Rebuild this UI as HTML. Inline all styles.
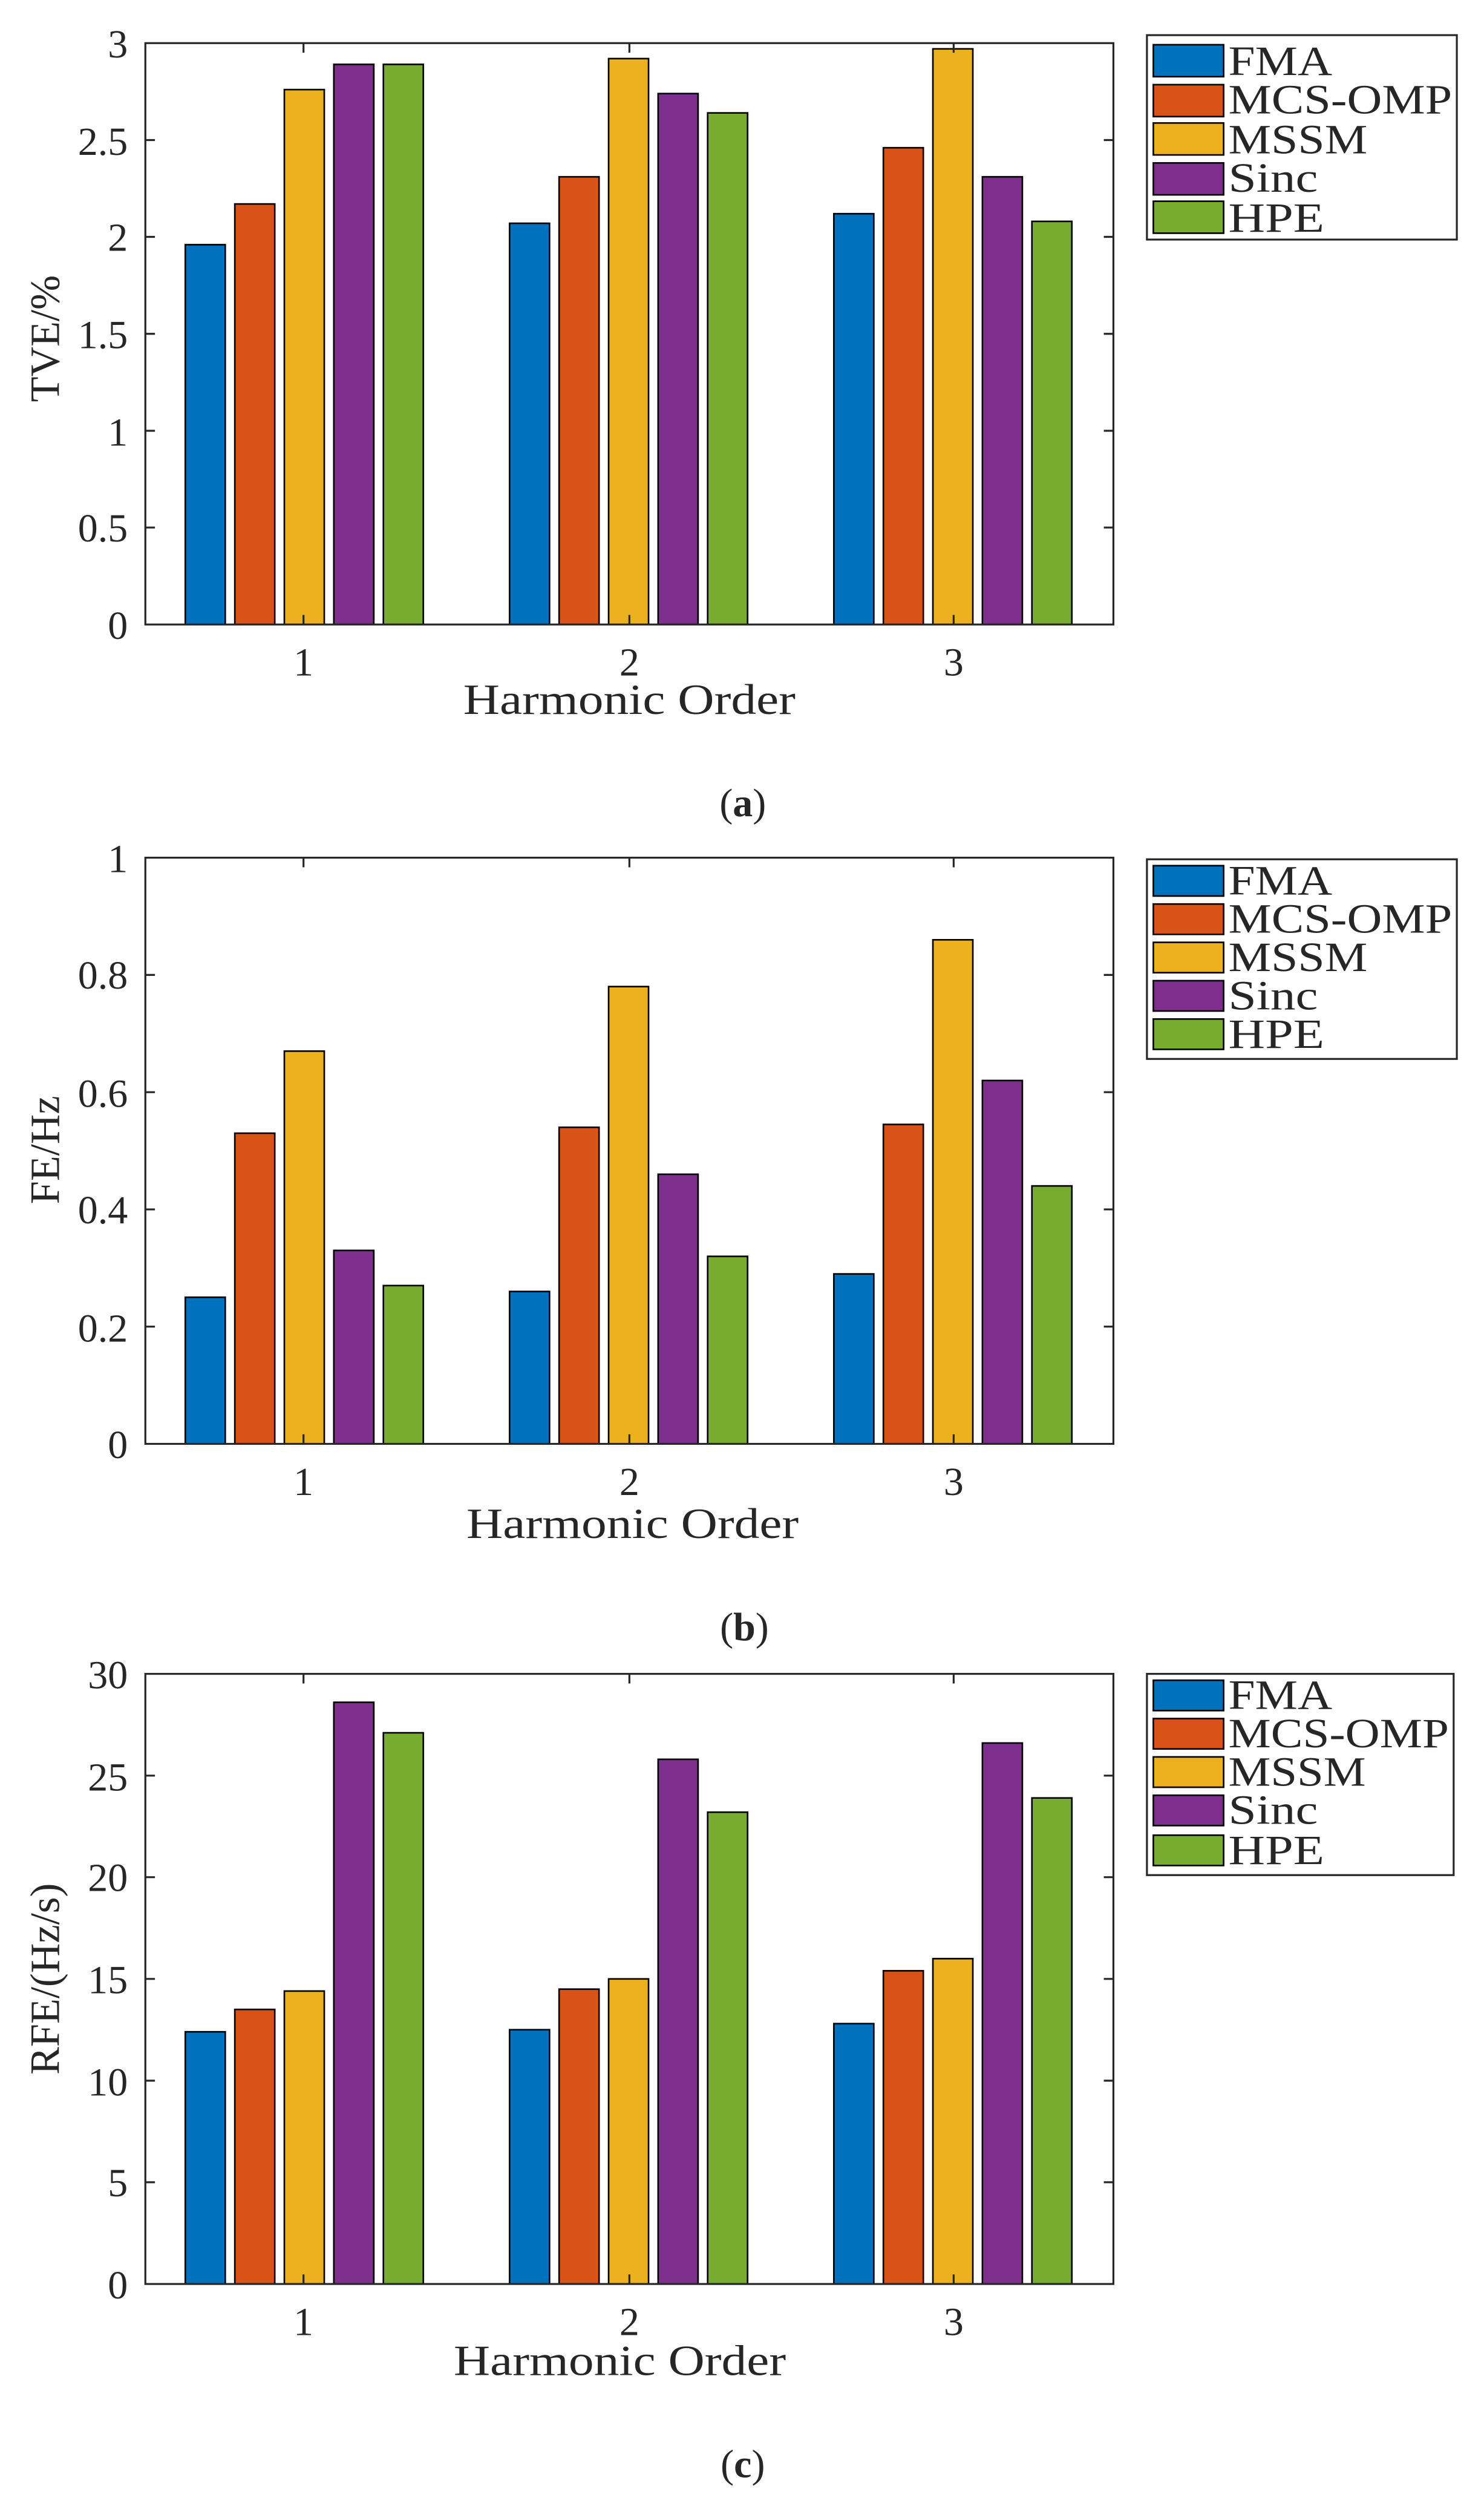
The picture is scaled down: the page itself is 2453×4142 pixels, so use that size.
<!DOCTYPE html>
<html><head><meta charset="utf-8"><style>
html,body{margin:0;padding:0;background:#fff;}
svg{display:block;}
text{font-family:"Liberation Serif",serif;fill:#262626;}
</style></head><body>
<svg width="2453" height="4142" viewBox="0 0 929 1569" preserveAspectRatio="none" xmlns="http://www.w3.org/2000/svg">
<rect width="929" height="1569" fill="#fff"/>
<g stroke="#000" stroke-width="1">
<rect x="116" y="153.2" width="25" height="237.8" fill="#0072BD"/>
<rect x="147" y="127.7" width="25" height="263.3" fill="#D95319"/>
<rect x="178" y="56.1" width="25" height="334.9" fill="#EDB120"/>
<rect x="209" y="40.3" width="25" height="350.7" fill="#7E2F8E"/>
<rect x="240" y="40.3" width="25" height="350.7" fill="#77AC30"/>
<rect x="319" y="139.8" width="25" height="251.2" fill="#0072BD"/>
<rect x="350" y="110.7" width="25" height="280.3" fill="#D95319"/>
<rect x="381" y="36.7" width="25" height="354.3" fill="#EDB120"/>
<rect x="412" y="58.6" width="25" height="332.4" fill="#7E2F8E"/>
<rect x="443" y="70.7" width="25" height="320.3" fill="#77AC30"/>
<rect x="522" y="133.8" width="25" height="257.2" fill="#0072BD"/>
<rect x="553" y="92.5" width="25" height="298.5" fill="#D95319"/>
<rect x="584" y="30.6" width="25" height="360.4" fill="#EDB120"/>
<rect x="615" y="110.7" width="25" height="280.3" fill="#7E2F8E"/>
<rect x="646" y="138.6" width="25" height="252.4" fill="#77AC30"/>
<rect x="116" y="812.2" width="25" height="91.8" fill="#0072BD"/>
<rect x="147" y="709.5" width="25" height="194.5" fill="#D95319"/>
<rect x="178" y="658.1" width="25" height="245.9" fill="#EDB120"/>
<rect x="209" y="782.9" width="25" height="121.1" fill="#7E2F8E"/>
<rect x="240" y="804.9" width="25" height="99.1" fill="#77AC30"/>
<rect x="319" y="808.6" width="25" height="95.4" fill="#0072BD"/>
<rect x="350" y="705.8" width="25" height="198.2" fill="#D95319"/>
<rect x="381" y="617.7" width="25" height="286.3" fill="#EDB120"/>
<rect x="412" y="735.2" width="25" height="168.8" fill="#7E2F8E"/>
<rect x="443" y="786.6" width="25" height="117.4" fill="#77AC30"/>
<rect x="522" y="797.6" width="25" height="106.4" fill="#0072BD"/>
<rect x="553" y="704" width="25" height="200" fill="#D95319"/>
<rect x="584" y="588.4" width="25" height="315.6" fill="#EDB120"/>
<rect x="615" y="676.5" width="25" height="227.5" fill="#7E2F8E"/>
<rect x="646" y="742.5" width="25" height="161.5" fill="#77AC30"/>
<rect x="116" y="1272.1" width="25" height="157.9" fill="#0072BD"/>
<rect x="147" y="1258.1" width="25" height="171.9" fill="#D95319"/>
<rect x="178" y="1246.6" width="25" height="183.4" fill="#EDB120"/>
<rect x="209" y="1065.8" width="25" height="364.2" fill="#7E2F8E"/>
<rect x="240" y="1084.9" width="25" height="345.1" fill="#77AC30"/>
<rect x="319" y="1270.8" width="25" height="159.2" fill="#0072BD"/>
<rect x="350" y="1245.4" width="25" height="184.6" fill="#D95319"/>
<rect x="381" y="1239" width="25" height="191" fill="#EDB120"/>
<rect x="412" y="1101.5" width="25" height="328.5" fill="#7E2F8E"/>
<rect x="443" y="1134.6" width="25" height="295.4" fill="#77AC30"/>
<rect x="522" y="1267" width="25" height="163" fill="#0072BD"/>
<rect x="553" y="1233.9" width="25" height="196.1" fill="#D95319"/>
<rect x="584" y="1226.3" width="25" height="203.7" fill="#EDB120"/>
<rect x="615" y="1091.3" width="25" height="338.7" fill="#7E2F8E"/>
<rect x="646" y="1125.7" width="25" height="304.3" fill="#77AC30"/>
</g>
<g fill="none" stroke="#262626" stroke-width="1.2">
<rect x="91" y="27" width="606" height="364"/>
<rect x="91" y="537" width="606" height="367"/>
<rect x="91" y="1048" width="606" height="382"/>
<path d="M91 330.3h6M91 269.7h6M91 209h6M91 148.3h6M91 87.7h6M697 330.3h-6M697 269.7h-6M697 209h-6M697 148.3h-6M697 87.7h-6M190 391v-6M394 391v-6M597 391v-6M190 27v6M394 27v6M597 27v6"/>
<path d="M91 830.6h6M91 757.2h6M91 683.8h6M91 610.4h6M697 830.6h-6M697 757.2h-6M697 683.8h-6M697 610.4h-6M190 904v-6M394 904v-6M597 904v-6M190 537v6M394 537v6M597 537v6"/>
<path d="M91 1366.3h6M91 1302.7h6M91 1239h6M91 1175.3h6M91 1111.7h6M697 1366.3h-6M697 1302.7h-6M697 1239h-6M697 1175.3h-6M697 1111.7h-6M190 1430v-6M394 1430v-6M597 1430v-6M190 1048v6M394 1048v6M597 1048v6"/>
</g>
<g font-size="25" text-anchor="end">
<text x="80" y="400">0</text><text x="80" y="339">0.5</text><text x="80" y="279">1</text><text x="80" y="218">1.5</text><text x="80" y="157">2</text><text x="80" y="97">2.5</text><text x="80" y="36">3</text>
<text x="80" y="913">0</text><text x="80" y="840">0.2</text><text x="80" y="766">0.4</text><text x="80" y="693">0.6</text><text x="80" y="619">0.8</text><text x="80" y="546">1</text>
<text x="80" y="1439">0</text><text x="80" y="1375">5</text><text x="80" y="1312">10</text><text x="80" y="1248">15</text><text x="80" y="1184">20</text><text x="80" y="1121">25</text><text x="80" y="1057">30</text>
</g>
<g font-size="25" text-anchor="middle">
<text x="190" y="423">1</text><text x="394" y="423">2</text><text x="597" y="423">3</text>
<text x="190" y="936">1</text><text x="394" y="936">2</text><text x="597" y="936">3</text>
<text x="190" y="1462">1</text><text x="394" y="1462">2</text><text x="597" y="1462">3</text>
</g>
<g font-size="27">
<text x="290" y="447" textLength="208" lengthAdjust="spacingAndGlyphs">Harmonic Order</text>
<text x="292" y="963" textLength="208" lengthAdjust="spacingAndGlyphs">Harmonic Order</text>
<text x="284" y="1487" textLength="208" lengthAdjust="spacingAndGlyphs">Harmonic Order</text>
</g>
<g font-size="25" text-anchor="middle">
<text x="465" y="511" fill="#000">(<tspan font-weight="bold">a</tspan>)</text>
<text x="466" y="1027" fill="#000">(<tspan font-weight="bold">b</tspan>)</text>
<text x="465" y="1551" fill="#000">(<tspan font-weight="bold">c</tspan>)</text>
</g>
<g font-size="26" text-anchor="middle">
<text transform="translate(37,212) rotate(-90)">TVE/%</text>
<text transform="translate(37,720) rotate(-90)">FE/Hz</text>
<text transform="translate(37,1239) rotate(-90)">RFE/(Hz/s)</text>
</g>
<g>
<rect x="718" y="22" width="194" height="128" fill="#fff" stroke="#262626" stroke-width="1.2"/>
<rect x="722" y="28" width="44" height="20" fill="#0072BD" stroke="#000"/>
<rect x="722" y="53" width="44" height="20" fill="#D95319" stroke="#000"/>
<rect x="722" y="77" width="44" height="20" fill="#EDB120" stroke="#000"/>
<rect x="722" y="102" width="44" height="20" fill="#7E2F8E" stroke="#000"/>
<rect x="722" y="126" width="44" height="20" fill="#77AC30" stroke="#000"/>
<g font-size="26" fill="#000" lengthAdjust="spacingAndGlyphs"><text x="769" y="47" textLength="65" lengthAdjust="spacingAndGlyphs">FMA</text><text x="769" y="71" textLength="140" lengthAdjust="spacingAndGlyphs">MCS-OMP</text><text x="769" y="96" textLength="87" lengthAdjust="spacingAndGlyphs">MSSM</text><text x="769" y="120" textLength="56" lengthAdjust="spacingAndGlyphs">Sinc</text><text x="769" y="145" textLength="60" lengthAdjust="spacingAndGlyphs">HPE</text></g>

<rect x="718" y="538" width="194" height="125" fill="#fff" stroke="#262626" stroke-width="1.2"/>
<rect x="722" y="542" width="44" height="19" fill="#0072BD" stroke="#000"/>
<rect x="722" y="566" width="44" height="19" fill="#D95319" stroke="#000"/>
<rect x="722" y="590" width="44" height="19" fill="#EDB120" stroke="#000"/>
<rect x="722" y="614" width="44" height="19" fill="#7E2F8E" stroke="#000"/>
<rect x="722" y="638" width="44" height="19" fill="#77AC30" stroke="#000"/>
<g font-size="26" fill="#000"><text x="769" y="560" textLength="65" lengthAdjust="spacingAndGlyphs">FMA</text><text x="769" y="584" textLength="140" lengthAdjust="spacingAndGlyphs">MCS-OMP</text><text x="769" y="608" textLength="87" lengthAdjust="spacingAndGlyphs">MSSM</text><text x="769" y="632" textLength="56" lengthAdjust="spacingAndGlyphs">Sinc</text><text x="769" y="656" textLength="60" lengthAdjust="spacingAndGlyphs">HPE</text></g>

<rect x="718" y="1048" width="192" height="126" fill="#fff" stroke="#262626" stroke-width="1.2"/>
<rect x="722" y="1052" width="44" height="19" fill="#0072BD" stroke="#000"/>
<rect x="722" y="1076" width="44" height="19" fill="#D95319" stroke="#000"/>
<rect x="722" y="1100" width="44" height="19" fill="#EDB120" stroke="#000"/>
<rect x="722" y="1124" width="44" height="19" fill="#7E2F8E" stroke="#000"/>
<rect x="722" y="1149" width="44" height="19" fill="#77AC30" stroke="#000"/>
<g font-size="26" fill="#000"><text x="769" y="1070" textLength="65" lengthAdjust="spacingAndGlyphs">FMA</text><text x="769" y="1094" textLength="138" lengthAdjust="spacingAndGlyphs">MCS-OMP</text><text x="769" y="1118" textLength="86" lengthAdjust="spacingAndGlyphs">MSSM</text><text x="769" y="1142" textLength="56" lengthAdjust="spacingAndGlyphs">Sinc</text><text x="769" y="1167" textLength="60" lengthAdjust="spacingAndGlyphs">HPE</text></g>
</g>
</svg>
</body></html>
